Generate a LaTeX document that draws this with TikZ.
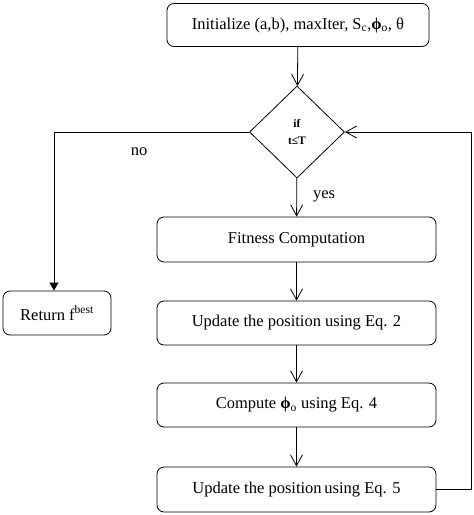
\documentclass[tikz,border=0pt]{standalone}
\usepackage{fontspec}
\setmainfont{Liberation Serif}
\usetikzlibrary{shapes.geometric,arrows.meta}
\begin{document}
\begin{tikzpicture}[x=1pt,y=-1pt,
  box/.style={draw, rounded corners=7pt, line width=0.8pt, inner sep=0pt, font=\fontsize{16.5}{19}\selectfont},
  dec/.style={draw, diamond, line width=0.8pt, inner sep=0pt, minimum width=95pt, minimum height=92pt, align=center, font=\bfseries\fontsize{11.5}{17}\selectfont},
  arr/.style={line width=0.8pt, -{Straight Barb[length=11pt,width=12pt,line width=0.8pt]}},
  farr/.style={line width=0.8pt, -{Triangle[length=8pt,width=9pt]}},
  lbl/.style={font=\fontsize{16.5}{19}\selectfont}]
\useasboundingbox (0,0) rectangle (474,515);
\node[box, minimum width=262pt, minimum height=43pt] (init) at (298,25) {Initialize (a,b), maxIter, S\textsubscript{c},\textbf{ϕ}\textsubscript{o}, θ};
\node[dec] (dec) at (297,132) {if\\t≤T};
\node[box, minimum width=279pt, minimum height=45pt] (fit) at (296.5,239.5) {Fitness Computation};
\node[box, minimum width=279pt, minimum height=44pt] (upd2) at (296.5,323) {Update the position using Eq. 2};
\node[box, minimum width=279pt, minimum height=44pt] (comp) at (296.5,405) {Compute \textbf{ϕ}\textsubscript{o} using Eq. 4};
\node[box, minimum width=279pt, minimum height=45pt] (upd5) at (296.5,489.5) {Update the position\,using Eq. 5};
\node[box, minimum width=108pt, minimum height=44pt] (ret) at (57,313) {Return f\textsuperscript{best}};
\node[lbl] (no) at (139,152) {no};
\node[lbl] (yes) at (324,196) {yes};
\coordinate (cl) at (54,132);
\coordinate (cr) at (471,489.5);
\draw[arr] (init) -- (dec);
\draw[arr] (dec) -- (fit);
\draw[arr] (fit) -- (upd2);
\draw[arr] (upd2) -- (comp);
\draw[arr] (comp) -- (upd5);
\draw[farr] (dec.west) -- (cl) -- (cl |- ret.north);
\draw[arr] (upd5.east) -- (cr) |- (dec.east);
\end{tikzpicture}
\end{document}
